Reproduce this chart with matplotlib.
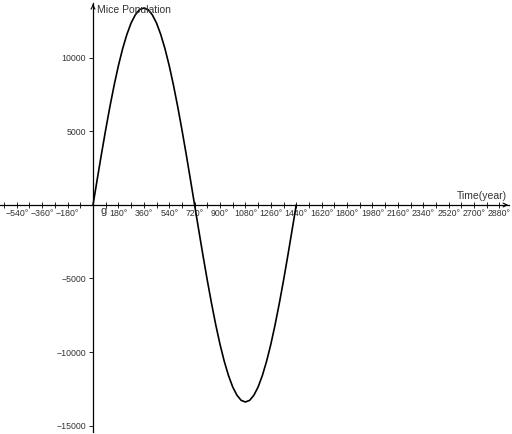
import numpy as np
import matplotlib
matplotlib.use("Agg")
import matplotlib.pyplot as plt
from matplotlib.ticker import FixedLocator

plt.rcParams['font.family'] = ['Liberation Sans', 'DejaVu Sans']

# curve g, every 30 degrees from 0 to 1440
time_deg = list(range(0, 1441, 30))
half = [0, 1750, 3470, 5130, 6700, 8160, 9480, 10630, 11600, 12380, 12940, 13290,
        13400, 13290, 12940, 12380, 11600, 10630, 9480, 8160, 6700, 5130, 3470, 1750]
mice = half + [-v for v in half] + [0]

x_ticks = [v for v in range(-540, 2881, 180) if v != 0]
x_minor = [v for v in range(-630, 2971, 90)]
y_ticks = [-15000, -10000, -5000, 5000, 10000]

def fmt(v, suffix=""):
    s = f"{abs(v)}{suffix}"
    return ("\u2212" + s) if v < 0 else s

fig = plt.figure(figsize=(5.12, 4.34), dpi=100)
ax = fig.add_axes([0, 0, 1, 1])

xmin, xmax = -659, 2969
ymin, ymax = -15578, 13945
ax.set_xlim(xmin, xmax)
ax.set_ylim(ymin, ymax)

ax.plot(time_deg, mice, color='black', lw=1.2, solid_capstyle='round')

for s in ['top', 'right']:
    ax.spines[s].set_visible(False)
ax.spines['left'].set_position(('data', 0))
ax.spines['bottom'].set_position(('data', 0))
ax.spines['left'].set_bounds(-15450, 13750)
ax.spines['bottom'].set_bounds(xmin, 2945)
for s in ['left', 'bottom']:
    ax.spines[s].set_linewidth(0.9)

# axis arrows
ax.annotate('', xy=(2962, 0), xytext=(2900, 0),
            arrowprops=dict(arrowstyle='->', lw=0.8, color='black', mutation_scale=7))
ax.annotate('', xy=(0, 13860), xytext=(0, 13400),
            arrowprops=dict(arrowstyle='->', lw=0.8, color='black', mutation_scale=7))

ax.xaxis.set_major_locator(FixedLocator(x_ticks))
ax.xaxis.set_minor_locator(FixedLocator(x_minor))
ax.set_xticklabels([fmt(v, "\u00b0") for v in x_ticks])
ax.yaxis.set_major_locator(FixedLocator(y_ticks))
ax.set_yticklabels([fmt(v) for v in y_ticks])

ax.tick_params(axis='x', which='major', direction='inout', length=4, width=0.6,
               pad=1, labelsize=6.3, labelcolor='#333333')
ax.tick_params(axis='x', which='minor', direction='inout', length=4, width=0.6)
ax.tick_params(axis='y', which='major', direction='out', length=3, width=0.6,
               pad=2, labelsize=6.3, labelcolor='#333333')

ax.text(28, 13600, "Mice Population", fontsize=7.5, color='#333333', ha='left', va='top')
ax.text(2935, 250, "Time(year)", fontsize=7.5, color='#333333', ha='right', va='bottom')
ax.text(55, -100, "g", fontsize=8, color='#333333', ha='left', va='top')

fig.savefig("out.png", dpi=100)
